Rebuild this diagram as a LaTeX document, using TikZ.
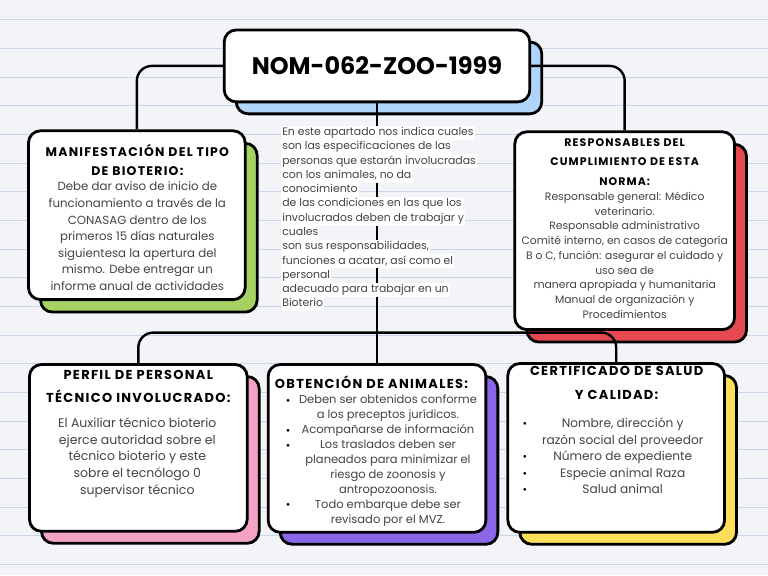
\documentclass[tikz,border=0pt]{standalone}
\usepackage{fontspec}
\setmainfont{Poppins}
\newfontfamily\headfont{Poppins}[LetterSpace=10]
\definecolor{bgc}{HTML}{F3F4F8}
\definecolor{linec}{HTML}{CBD5EA}
\definecolor{tblue}{HTML}{AFD5FB}
\definecolor{cgreen}{HTML}{A6D264}
\definecolor{cred}{HTML}{E6484F}
\definecolor{cpink}{HTML}{F5A3C4}
\definecolor{cpurple}{HTML}{8A67E8}
\definecolor{cyellow}{HTML}{FFDE5A}
\definecolor{txt}{HTML}{444444}
\setlength{\fboxsep}{1pt}
\newcommand\hl[1]{\colorbox{white}{\rule[-3.3pt]{0pt}{12.3pt}#1}}
\pgfdeclarelayer{back}\pgfdeclarelayer{conn}
\pgfsetlayers{back,conn,main}
\begin{document}
\begin{tikzpicture}[x=1pt,y=-1pt,
  card/.style={draw=black, line width=2.8pt, rounded corners=12pt, inner sep=0pt},
  link/.style={draw=black, line width=2.4pt, rounded corners=15pt},
  head/.style={inner sep=0pt, align=center, text=black},
  body/.style={inner sep=0pt, align=center, text=txt},
  bul/.style={inner sep=0pt, text=black, font=\fontsize{11}{11}\selectfont}]
\begin{pgfonlayer}{back}
  \fill[bgc] (0,0) rectangle (768,576);
  \foreach \k in {0,...,19} \draw[linec, line width=1pt] (0,{20+28.7*\k}) -- (768,{20+28.7*\k});
  % shadows
  \node[card, fill=tblue, minimum width=306pt, minimum height=72pt] (titleS) at (389,78) {};
  \node[card, fill=cgreen, minimum width=217pt, minimum height=169pt] (manS) at (148.5,228) {};
  \node[card, fill=cred, minimum width=220pt, minimum height=198pt] (respS) at (637,243.5) {};
  \node[card, fill=cpink, minimum width=218pt, minimum height=167pt] (perfS) at (150,460.5) {};
  \node[card, fill=cpurple, minimum width=218pt, minimum height=168pt] (obtS) at (389,461) {};
  \node[card, fill=cyellow, minimum width=217pt, minimum height=169pt] (certS) at (628.5,460.5) {};
\end{pgfonlayer}
\useasboundingbox (0,0) rectangle (768,576);

% cards
\node[card, fill=white, minimum width=306pt, minimum height=72pt,
  font=\fontsize{24}{24}\selectfont\bfseries] (title) at (377,66) {NOM-062-ZOO-1999};
\node[card, fill=white, minimum width=217pt, minimum height=169pt] (man) at (136.5,215.5) {};
\node[card, fill=white, minimum width=220pt, minimum height=198pt] (resp) at (625,231) {};
\node[card, fill=white, minimum width=218pt, minimum height=167pt] (perf) at (138,448.5) {};
\node[card, fill=white, minimum width=218pt, minimum height=168pt] (obt) at (377,449) {};
\node[card, fill=white, minimum width=217pt, minimum height=169pt] (cert) at (616.5,448.5) {};

\coordinate (hub) at (377,333);
\begin{pgfonlayer}{conn}
  \draw[link] (title.west) -| (man.north);
  \draw[link] (title.east) -| (resp.north);
  \draw[link] (title.south) -- (obt.north);
  \draw[link] (perf.north) |- (hub) -| (cert.north);
\end{pgfonlayer}

% middle text
\node[anchor=north west, inner sep=0pt, align=left, text=txt,
  font=\fontsize{10.9}{14.3}\selectfont] (mid) at (281,125.5) {%
\hl{En este apartado nos indica cuales}\\
\hl{son las especificaciones de las}\\
\hl{personas que estarán involucradas}\\
\hl{con los animales, no da}\\
\hl{conocimiento}\\
\hl{de las condiciones en las que los}\\
\hl{involucrados deben de trabajar y}\\
\hl{cuales}\\
\hl{son sus responsabilidades,}\\
\hl{funciones a acatar, así como el}\\
\hl{personal}\\
\hl{adecuado para trabajar en un}\\
\hl{Bioterio}};

% left card
\node[head, anchor=north, font=\headfont\fontsize{12.5}{20}\selectfont\bfseries] (manH) at (137,142)
  {\strut MANIFESTACIÓN DEL TIPO\\DE BIOTERIO:};
\node[body, anchor=north, font=\fontsize{11.8}{16.6}\selectfont] (manB) at (137,179.4)
  {\strut Debe dar aviso de inicio de\\funcionamiento a través de la\\CONASAG dentro de los\\primeros 15 días naturales\\siguientesa la apertura del\\mismo. Debe entregar un\\informe anual de actividades};

% right card
\node[head, anchor=north, font=\headfont\fontsize{11}{20}\selectfont\bfseries] (respH) at (625,132)
  {\strut RESPONSABLES DEL\\CUMPLIMIENTO DE ESTA\\NORMA:};
\node[body, anchor=north, font=\fontsize{10.8}{14.8}\selectfont] (respB) at (625,190)
  {\strut Responsable general: Médico\\veterinario.\\Responsable administrativo\\Comité interno, en casos de categoría\\B o C, función: asegurar el cuidado y\\uso sea de\\manera apropiada y humanitaria\\Manual de organización y\\Procedimientos};

% perfil card
\node[head, anchor=north, font=\headfont\fontsize{13}{23}\selectfont\bfseries] (perfH) at (138,363.4)
  {\strut PERFIL DE PERSONAL\\TÉCNICO INVOLUCRADO:};
\node[body, anchor=north, font=\fontsize{12.5}{16.8}\selectfont] (perfB) at (137,416)
  {\strut El Auxiliar técnico bioterio\\ejerce autoridad sobre el\\técnico bioterio y este\\sobre el tecnólogo 0\\supervisor técnico};

% obtencion card
\node[head, anchor=north, font=\headfont\fontsize{13}{13}\selectfont\bfseries] (obtH) at (371.5,376.4)
  {\strut OBTENCIÓN DE ANIMALES:};
\node[body, anchor=north, font=\fontsize{11.5}{15}\selectfont] (obtB) at (388,393.5)
  {\strut Deben ser obtenidos conforme\\a los preceptos jurídicos.\\Acompañarse de información\\Los traslados deben ser\\planeados para minimizar el\\riesgo de zoonosis y\\antropozoonosis.\\Todo embarque debe ser\\revisado por el MVZ.};
\node[bul] (ob1) at (288,403) {•};
\node[bul] (ob2) at (288,433) {•};
\node[bul] (ob3) at (288,448) {•};
\node[bul] (ob4) at (288,507) {•};

% certificado card
\node[head, anchor=north, font=\headfont\fontsize{13}{24}\selectfont\bfseries] (certH) at (617,358.7)
  {\strut CERTIFICADO DE SALUD\\Y CALIDAD:};
\node[body, anchor=north, font=\fontsize{12.2}{16.5}\selectfont] (certB) at (623,416.5)
  {\strut Nombre, dirección y\\razón social del proveedor\\Número de expediente\\Especie animal Raza\\Salud animal};
\node[bul] (cb1) at (525,426) {•};
\node[bul] (cb2) at (525,459) {•};
\node[bul] (cb3) at (525,475.5) {•};
\node[bul] (cb4) at (525,492) {•};
\end{tikzpicture}
\end{document}
